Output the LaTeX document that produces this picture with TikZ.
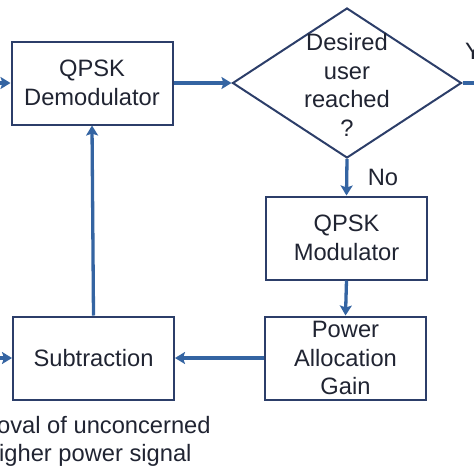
\documentclass[tikz,border=0pt]{standalone}
\usepackage{fontspec}
\setmainfont{Liberation Sans}
\usepackage{tikz}
\usetikzlibrary{shapes.geometric,arrows.meta}

\definecolor{boxline}{RGB}{44,62,105}
\definecolor{flowblue}{RGB}{52,100,162}
\definecolor{txtgray}{RGB}{32,36,50}

\tikzset{
  blk/.style={draw=boxline, line width=2pt, minimum width=161pt, minimum height=83pt,
    inner sep=0pt, align=center, text=txtgray, font=\fontsize{23.7}{28.5}\selectfont},
  decide/.style={diamond, draw=boxline, line width=2pt, minimum width=229pt,
    minimum height=150pt, inner sep=0pt},
  lbl/.style={inner sep=0pt, align=center, text=txtgray, font=\fontsize{23.7}{28.5}\selectfont},
  flow/.style={draw=flowblue, line width=3.3pt, -{Stealth[length=10pt,width=12pt,inset=2pt]}},
  flowline/.style={draw=flowblue, line width=3.3pt}
}

\begin{document}
\begin{tikzpicture}[x=1pt,y=1pt,yscale=-1,xscale=1]
\useasboundingbox (0,0) rectangle (474,474);
\clip (0,0) rectangle (474,474);

% Blocks
\node[blk] (demod) at (92,83) {QPSK\\Demodulator};
\node[decide] (ask) at (347,83) {};
\node[lbl] (asktxt) at (347,85) {Desired\\user\\reached\\?};
\node[blk] (mod) at (346.5,238) {QPSK\\Modulator};
\node[blk] (pow) at (345.5,358) {Power\\Allocation\\Gain};
\node[blk] (sub) at (93.5,358) {Subtraction};

% Free ends at the edges
\coordinate (in1) at (0,83);
\coordinate (in2) at (0,358);
\coordinate (out) at (474,83);

% Straight Lines
\draw[flow] (in1) -- (demod.west);
\draw[flow] (in2) -- (sub.west);
\draw[flow] (demod.east) -- (ask.west);
\draw[flowline] (ask.east) -- (out);
\draw[flow] (ask.south) -- (mod.north);
\draw[flow] (mod.south) -- (pow.north);
\draw[flow] (pow.west) -- (sub.east);
\draw[flow] (sub.north) -- (demod.south);

% Text Node
\node[lbl] (no) at (383,177) {No};
% Text Node
\node[lbl, anchor=north west] (yes) at (465,43) {Y};
% Text Node
\node[lbl, anchor=base west] (note1) at (-3,433) {oval of unconcerned};
% Text Node
\node[lbl, anchor=base west] (note2) at (-1,461) {igher power signal};

\end{tikzpicture}
\end{document}
